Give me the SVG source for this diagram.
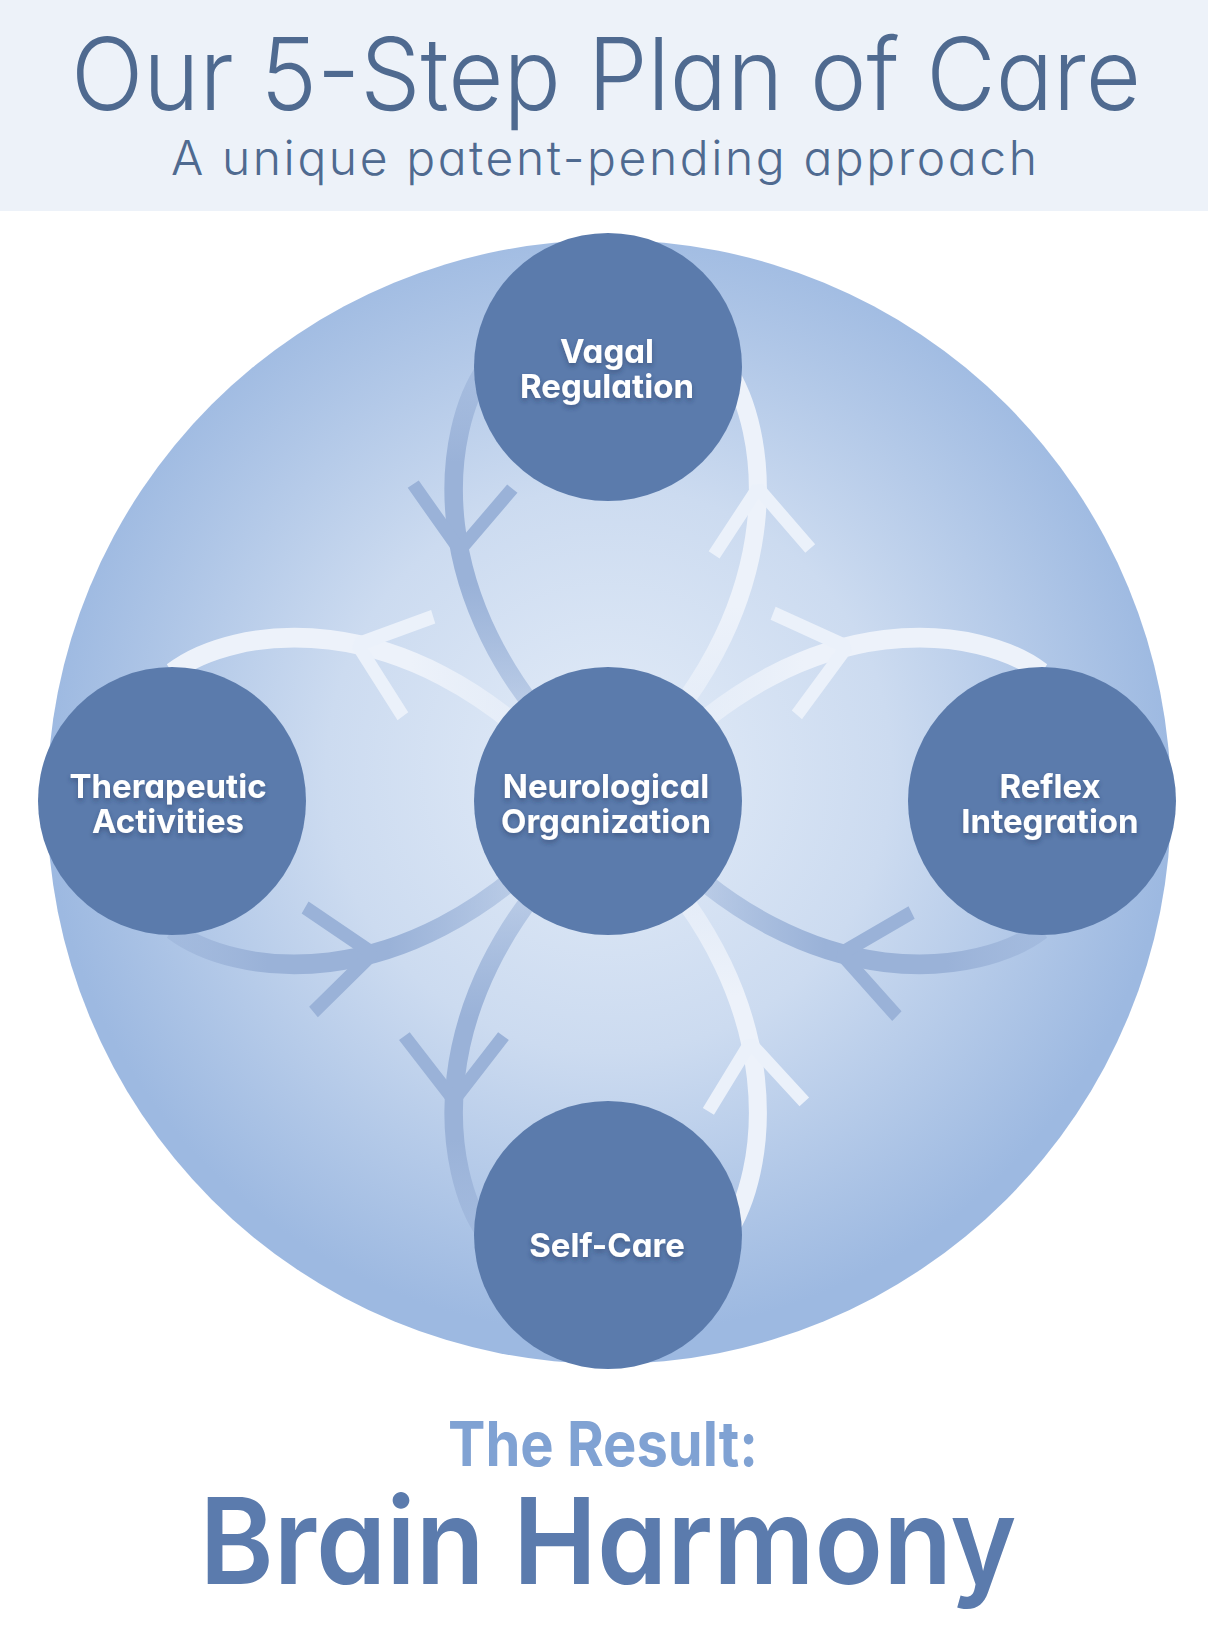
<svg xmlns="http://www.w3.org/2000/svg" width="1208" height="1646" viewBox="0 0 1208 1646">
<style>
  .hdr { font-family: Inter, "Liberation Sans", sans-serif; fill: #4F6A90; font-feature-settings: "cv11" 1; }
  .lbl { font-family: Inter, "Liberation Sans", sans-serif; font-weight: 700; font-size: 33px; fill: #FFFFFF; text-anchor: middle; font-feature-settings: "cv11" 1; }
  .node { fill: #5B7BAC; }
  .arcD { fill: none; stroke: url(#gDark); stroke-width: 18; }
  .arcL { fill: none; stroke: url(#gLight); stroke-width: 18; }
  .headD { fill: none; stroke: #9AB2D8; stroke-width: 13; stroke-linejoin: bevel; }
  .headL { fill: none; stroke: #EBF1FA; stroke-width: 13; stroke-linejoin: bevel; }
</style>
<defs>
  <radialGradient id="bigGrad" gradientUnits="userSpaceOnUse" cx="609" cy="770" r="565">
    <stop offset="0" stop-color="#E3ECF8"/>
    <stop offset="0.5" stop-color="#CCDBF0"/>
    <stop offset="1" stop-color="#9DB9E1"/>
  </radialGradient>
  <linearGradient id="gDark" gradientUnits="userSpaceOnUse" x1="0" y1="0" x2="434" y2="0">
    <stop offset="0" stop-color="#9AB2D8" stop-opacity="0.55"/>
    <stop offset="0.22" stop-color="#9AB2D8" stop-opacity="1"/>
    <stop offset="0.5" stop-color="#9AB2D8" stop-opacity="1"/>
    <stop offset="0.8" stop-color="#9AB2D8" stop-opacity="0.45"/>
    <stop offset="1" stop-color="#9AB2D8" stop-opacity="0.3"/>
  </linearGradient>
  <linearGradient id="gLight" gradientUnits="userSpaceOnUse" x1="0" y1="0" x2="434" y2="0">
    <stop offset="0" stop-color="#EDF2FA" stop-opacity="1"/>
    <stop offset="0.55" stop-color="#EDF2FA" stop-opacity="1"/>
    <stop offset="0.8" stop-color="#EDF2FA" stop-opacity="0.6"/>
    <stop offset="1" stop-color="#EDF2FA" stop-opacity="0.4"/>
  </linearGradient>
  <path id="arc" d="M0,-118 C60,-160 230,-185 390,-30"/>
  <filter id="ts" x="-20%" y="-40%" width="140%" height="190%">
    <feDropShadow dx="0" dy="3" stdDeviation="2.5" flood-color="#22355A" flood-opacity="0.45"/>
  </filter>
</defs>

<rect x="0" y="0" width="1208" height="1646" fill="#FFFFFF"/>

<g id="header">
  <rect x="0" y="0" width="1208" height="211" fill="#EDF2F9"/>
  <text class="hdr" x="606" y="110" font-size="100" font-weight="300" text-anchor="middle" textLength="1070" lengthAdjust="spacingAndGlyphs">Our 5-Step Plan of Care</text>
  <text class="hdr" x="604" y="175" font-size="48" font-weight="300" text-anchor="middle" textLength="866" lengthAdjust="spacing">A unique patent-pending approach</text>
</g>

<circle id="background-circle" cx="609" cy="802" r="562" fill="url(#bigGrad)"/>

<g id="connectors">
  <!-- top pair -->
  <g transform="matrix(0,1,1.03,0,608,367)">
    <use href="#arc" class="arcD"/>
    <polyline class="headD" points="117.2,-189.1 183.2,-143.9 121.6,-92.9"/>
  </g>
  <g transform="matrix(0,1,-1.0,0,608,367)">
    <use href="#arc" class="arcL"/>
    <polyline class="headL" points="181.6,-202.2 121,-149.9 187.9,-106.1"/>
  </g>
  <!-- bottom pair -->
  <g transform="matrix(0,-1,1.03,0,608,1235)">
    <use href="#arc" class="arcD"/>
    <polyline class="headD" points="198.8,-197.7 134.9,-149.6 198.8,-101.5"/>
  </g>
  <g transform="matrix(0,-1,-1.0,0,608,1235)">
    <use href="#arc" class="arcL"/>
    <polyline class="headL" points="133.1,-196.3 192,-142.1 123.7,-100.4"/>
  </g>
  <!-- left pair -->
  <g transform="matrix(1,0,0,1.09,172,801)">
    <use href="#arc" class="arcL"/>
    <polyline class="headL" points="261.2,-169.1 185.4,-143.5 230.9,-77.7"/>
  </g>
  <g transform="matrix(1,0,0,-1.09,172,801)">
    <use href="#arc" class="arcD"/>
    <polyline class="headD" points="141.5,-193.5 200.9,-140 133.1,-97.6"/>
  </g>
  <!-- right pair -->
  <g transform="matrix(-1,0,0,1.09,1042,801)">
    <use href="#arc" class="arcL"/>
    <polyline class="headL" points="268.9,-172.3 195.1,-141.4 245.1,-79"/>
  </g>
  <g transform="matrix(-1,0,0,-1.09,1042,801)">
    <use href="#arc" class="arcD"/>
    <polyline class="headD" points="145.1,-197.4 200.9,-140 130.4,-102.2"/>
  </g>
</g>

<g id="node-vagal">
  <circle class="node" cx="608" cy="367" r="134"/>
  <text class="lbl" filter="url(#ts)"><tspan x="607" y="363">Vagal</tspan><tspan x="607" y="398">Regulation</tspan></text>
</g>
<g id="node-neuro">
  <circle class="node" cx="608" cy="801" r="134"/>
  <text class="lbl" filter="url(#ts)"><tspan x="606" y="798">Neurological</tspan><tspan x="606" y="833">Organization</tspan></text>
</g>
<g id="node-therapeutic">
  <circle class="node" cx="172" cy="801" r="134"/>
  <text class="lbl" filter="url(#ts)"><tspan x="168" y="798">Therapeutic</tspan><tspan x="168" y="833">Activities</tspan></text>
</g>
<g id="node-reflex">
  <circle class="node" cx="1042" cy="801" r="134"/>
  <text class="lbl" filter="url(#ts)"><tspan x="1050" y="798">Reflex</tspan><tspan x="1050" y="833">Integration</tspan></text>
</g>
<g id="node-selfcare">
  <circle class="node" cx="608" cy="1235" r="134"/>
  <text class="lbl" filter="url(#ts)" x="607" y="1257">Self-Care</text>
</g>

<g id="footer">
  <text x="603" y="1466" font-family="Inter, 'Liberation Sans', sans-serif" font-weight="700" font-size="62" fill="#80A2D3" text-anchor="middle" textLength="310" lengthAdjust="spacingAndGlyphs" style="font-feature-settings: 'cv11' 1;">The Result:</text>
  <text x="608" y="1584" font-family="Inter, 'Liberation Sans', sans-serif" font-weight="600" font-size="120" fill="#5B7BAD" text-anchor="middle" textLength="817" lengthAdjust="spacingAndGlyphs" style="font-feature-settings: 'cv11' 1;">Brain Harmony</text>
</g>
</svg>
